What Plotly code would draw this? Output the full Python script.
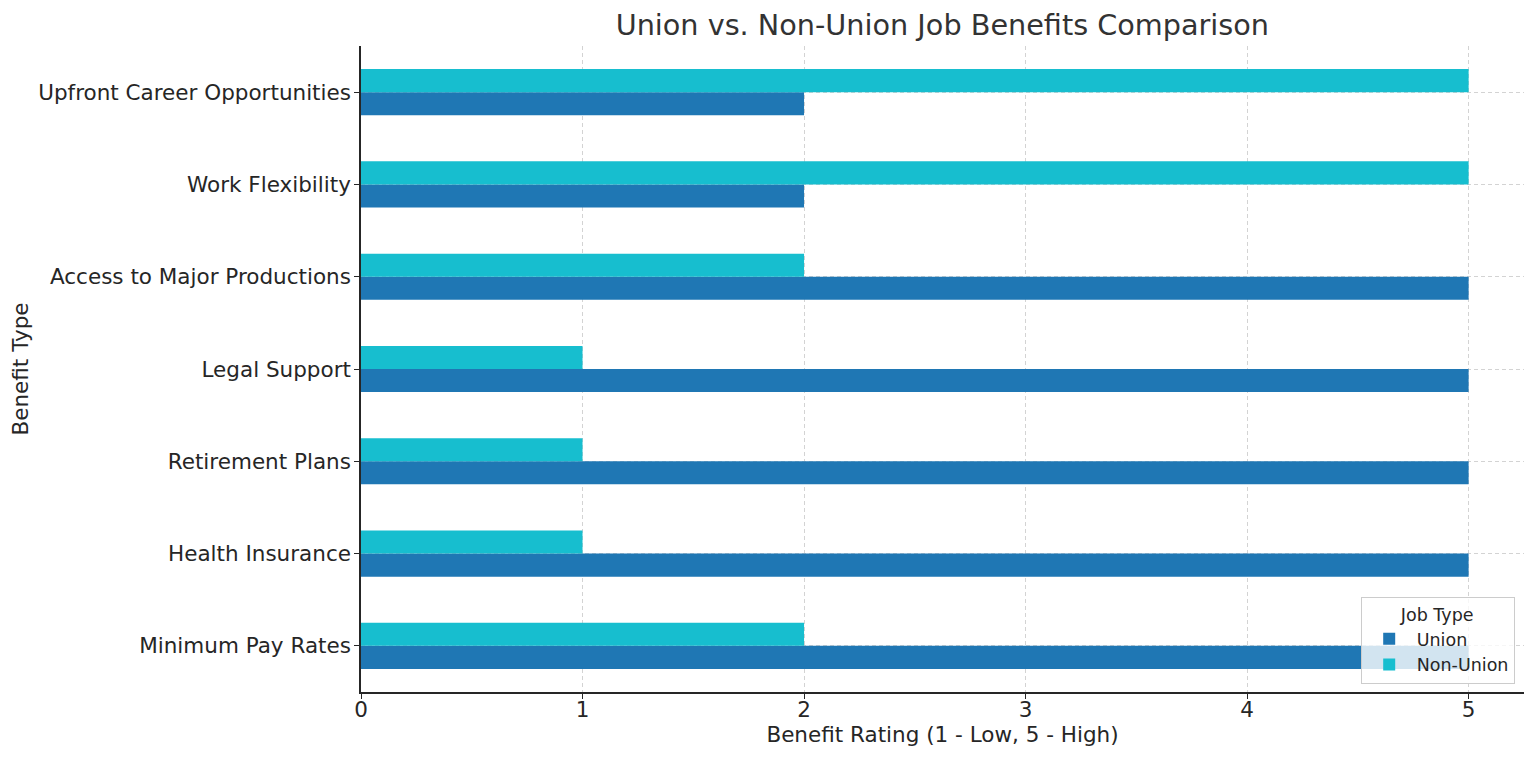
import plotly.graph_objects as go

categories = ["Minimum Pay Rates", "Health Insurance", "Retirement Plans", "Legal Support",
              "Access to Major Productions", "Work Flexibility", "Upfront Career Opportunities"]
union_values = [5, 5, 5, 5, 5, 2, 2]
non_union_values = [2, 1, 1, 1, 2, 5, 5]
x_ticks = [0, 1, 2, 3, 4, 5]

font_family = "DejaVu Sans"

fig = go.Figure()
fig.add_trace(go.Bar(y=categories, x=union_values, orientation="h", name="Union",
                     marker=dict(color="#1f77b4", line=dict(width=0))))
fig.add_trace(go.Bar(y=categories, x=non_union_values, orientation="h", name="Non-Union",
                     marker=dict(color="#17becf", line=dict(width=0))))

fig.update_layout(
    width=1536, height=762,
    barmode="group", bargap=0.5, bargroupgap=0,
    plot_bgcolor="white", paper_bgcolor="white",
    margin=dict(l=361, r=12, t=46, b=70),
    font=dict(family=font_family, color="#262626", size=21.5),
    title=dict(text="Union vs. Non-Union Job Benefits Comparison", x=0.6135,
               xanchor="center", y=0.967, yanchor="middle",
               font=dict(size=28.7, color="#333333", family=font_family)),
    xaxis=dict(range=[0, 5.25], tickvals=x_ticks, showline=True, linecolor="#262626", linewidth=1.5,
               ticks="outside", ticklen=5, tickcolor="#262626", tickfont=dict(size=21.5),
               ticklabelstandoff=-8,
               showgrid=True, gridcolor="#d3d3d3", griddash="4px,3px", gridwidth=1, zeroline=False,
               title=dict(text="Benefit Rating (1 - Low, 5 - High)", font=dict(size=21.5), standoff=5)),
    yaxis=dict(range=[-0.5, 6.5], showline=True, linecolor="#262626", linewidth=1.5,
               ticks="outside", ticklen=5, tickcolor="#262626", tickfont=dict(size=21.5),
               ticklabelstandoff=-1,
               showgrid=True, gridcolor="#d3d3d3", griddash="4px,3px", gridwidth=1, zeroline=False,
               title=dict(text="Benefit Type", font=dict(size=21.5), standoff=4)),
    legend=dict(x=0.992, y=0.012, xanchor="right", yanchor="bottom",
                bgcolor="rgba(255,255,255,0.8)", bordercolor="#cccccc", borderwidth=1,
                title=dict(text="Job Type", side="top center", font=dict(size=17.5)),
                font=dict(size=17.5), traceorder="normal", itemwidth=45),
)

fig.write_html("out.html")
